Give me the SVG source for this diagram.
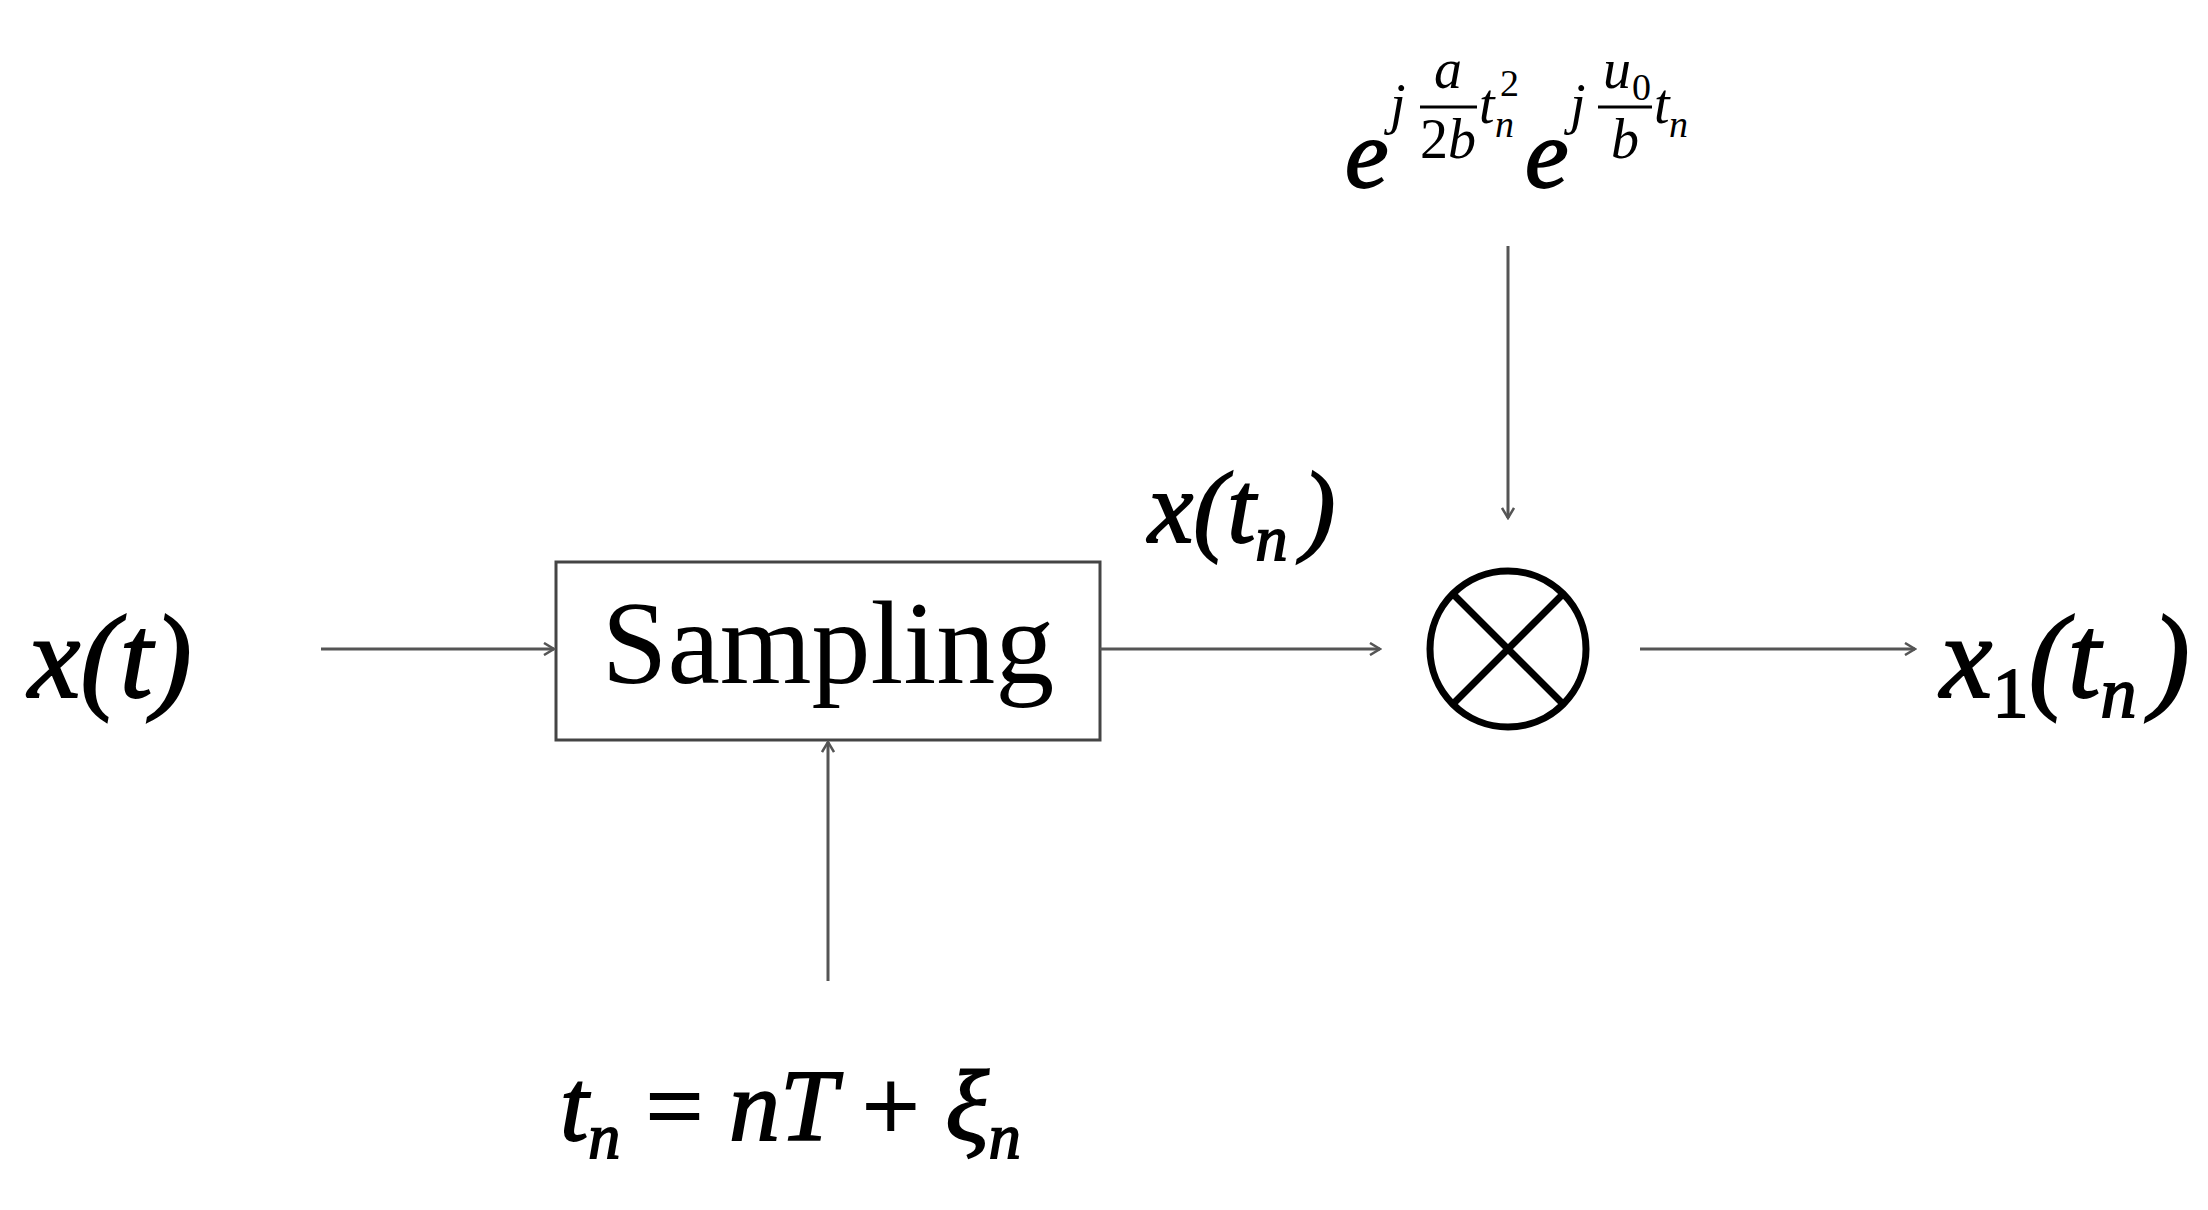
<svg xmlns="http://www.w3.org/2000/svg" width="2208" height="1210" viewBox="0 0 2208 1210">
<style>
.m{font-family:"Liberation Serif",serif;font-style:italic;fill:#000}
.b{stroke:#000;stroke-width:1.8}
.r{font-family:"Liberation Serif",serif;fill:#000}
.c{stroke:#555;stroke-width:3;fill:none}
</style>
<defs><marker id="a" markerWidth="14" markerHeight="14" refX="12" refY="7" orient="auto" markerUnits="userSpaceOnUse"><path d="M2,1 L12,7 L2,13" fill="none" stroke="#555" stroke-width="2.5"/></marker></defs>
<rect width="2208" height="1210" fill="#fff"/>
<g id="xt"><text class="m b" x="28" y="697" font-size="118">x(t)</text></g>
<g id="sampling"><rect x="556" y="562" width="544" height="178" fill="#fff" stroke="#444" stroke-width="3"/><text class="r" x="828" y="683" font-size="118" text-anchor="middle" fill="#333">Sampling</text></g>
<g id="mult"><circle cx="1508" cy="649" r="78" fill="#fff" stroke="#000" stroke-width="7"/><path d="M1453,594 L1563,704 M1563,594 L1453,704" stroke="#000" stroke-width="7"/></g>
<g id="xtn"><text class="m b" x="1148" y="542" font-size="102">x(t<tspan font-size="64" dy="18">n</tspan><tspan dx="14" dy="-18">)</tspan></text></g>
<g id="x1tn"><text class="m b" x="1940" y="697" font-size="118">x<tspan class="r" font-style="normal" font-size="72" dy="20">1</tspan><tspan dy="-20">(t</tspan><tspan font-size="72" dy="20">n</tspan><tspan dx="14" dy="-20">)</tspan></text></g>
<g id="tn"><text class="m b" x="560" y="1140" font-size="102">t<tspan font-size="64" dy="18">n</tspan><tspan font-style="normal" dy="-18"> = </tspan>nT<tspan font-style="normal"> + </tspan>ξ<tspan font-size="64" dy="18">n</tspan></text></g>
<g id="expo">
<text class="m b" x="1345" y="187" font-size="98">e</text>
<text class="m" x="1390" y="123" font-size="56">j</text>
<line x1="1420" y1="107" x2="1477" y2="107" stroke="#000" stroke-width="3"/>
<text class="m" x="1448" y="88" font-size="56" text-anchor="middle">a</text>
<text class="m" x="1448" y="158" font-size="56" text-anchor="middle"><tspan font-style="normal">2</tspan>b</text>
<text class="m" x="1479" y="123" font-size="56">t</text>
<text class="r" x="1500" y="96" font-size="38">2</text>
<text class="m" x="1495" y="137" font-size="38">n</text>
<text class="m b" x="1525" y="187" font-size="98">e</text>
<text class="m" x="1570" y="123" font-size="56">j</text>
<line x1="1598" y1="107" x2="1652" y2="107" stroke="#000" stroke-width="3"/>
<text class="m" x="1603" y="88" font-size="56">u</text>
<text class="r" x="1632" y="100" font-size="38">0</text>
<text class="m" x="1625" y="158" font-size="56" text-anchor="middle">b</text>
<text class="m" x="1654" y="123" font-size="56">t</text>
<text class="m" x="1669" y="137" font-size="38">n</text>
</g>
<g id="connectors">
<line class="c" x1="321" y1="649" x2="554" y2="649" marker-end="url(#a)"/>
<line class="c" x1="1100" y1="649" x2="1380" y2="649" marker-end="url(#a)"/>
<line class="c" x1="1640" y1="649" x2="1915" y2="649" marker-end="url(#a)"/>
<line class="c" x1="1508" y1="246" x2="1508" y2="518" marker-end="url(#a)"/>
<line class="c" x1="828" y1="981" x2="828" y2="742" marker-end="url(#a)"/>
</g>
</svg>
